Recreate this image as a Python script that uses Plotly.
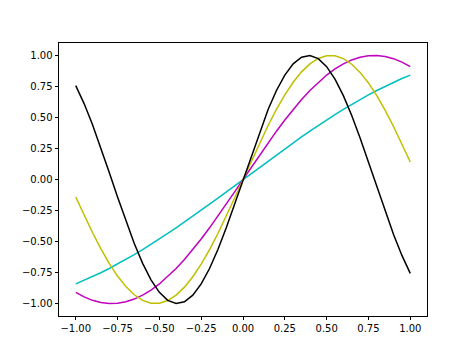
import plotly.graph_objects as go

x_pos = [0.00, 0.05, 0.10, 0.15, 0.20, 0.25, 0.30, 0.35, 0.40, 0.45, 0.50,
         0.55, 0.60, 0.65, 0.70, 0.75, 0.80, 0.85, 0.90, 0.95, 1.00]

# values for x >= 0 (curves are odd-symmetric)
cyan_pos = [0.0, 0.0500, 0.0998, 0.1494, 0.1987, 0.2474, 0.2955, 0.3429, 0.3894, 0.4350, 0.4794,
            0.5227, 0.5646, 0.6052, 0.6442, 0.6816, 0.7174, 0.7513, 0.7833, 0.8134, 0.8415]
magenta_pos = [0.0, 0.0998, 0.1987, 0.2955, 0.3894, 0.4794, 0.5646, 0.6442, 0.7174, 0.7833, 0.8415,
               0.8912, 0.9320, 0.9636, 0.9854, 0.9975, 0.9996, 0.9917, 0.9738, 0.9463, 0.9093]
yellow_pos = [0.0, 0.1494, 0.2955, 0.4350, 0.5646, 0.6816, 0.7833, 0.8674, 0.9320, 0.9757, 0.9975,
              0.9969, 0.9738, 0.9290, 0.8632, 0.7781, 0.6755, 0.5577, 0.4274, 0.2875, 0.1411]
black_pos = [0.0, 0.1987, 0.3894, 0.5646, 0.7174, 0.8415, 0.9320, 0.9854, 0.9996, 0.9738, 0.9093,
             0.8085, 0.6755, 0.5155, 0.3350, 0.1411, -0.0584, -0.2555, -0.4425, -0.6119, -0.7568]

x_vals = [-v for v in x_pos[:0:-1]] + x_pos
def full(pos):
    return [-v for v in pos[:0:-1]] + pos

series = [
    ("cyan", cyan_pos, "#00bfbf"),
    ("magenta", magenta_pos, "#bf00bf"),
    ("yellow", yellow_pos, "#bfbf00"),
    ("black", black_pos, "#000000"),
]

tick_vals = [-1.0, -0.75, -0.5, -0.25, 0.0, 0.25, 0.5, 0.75, 1.0]
tick_text = ["\u22121.00", "\u22120.75", "\u22120.50", "\u22120.25", "0.00", "0.25", "0.50", "0.75", "1.00"]

fig = go.Figure()
for name, pos, color in series:
    fig.add_trace(go.Scatter(x=x_vals, y=full(pos), mode="lines", name=name,
                             line=dict(color=color, width=1.5)))

axis_common = dict(
    showgrid=False, zeroline=False, showline=True, linecolor="black", linewidth=0.8,
    mirror=True, ticks="outside", ticklen=3.5, tickwidth=0.8, tickcolor="black",
    tickvals=tick_vals, ticktext=tick_text,
    tickfont=dict(family="DejaVu Sans", size=10, color="black"),
)
fig.update_xaxes(range=[-1.1, 1.1], **axis_common)
fig.update_yaxes(range=[-1.09996, 1.09996], **axis_common)
fig.update_layout(
    width=474, height=355, showlegend=False,
    margin=dict(l=59, r=47, t=43, b=39),
    plot_bgcolor="white", paper_bgcolor="white",
)
fig.write_html("out.html")
